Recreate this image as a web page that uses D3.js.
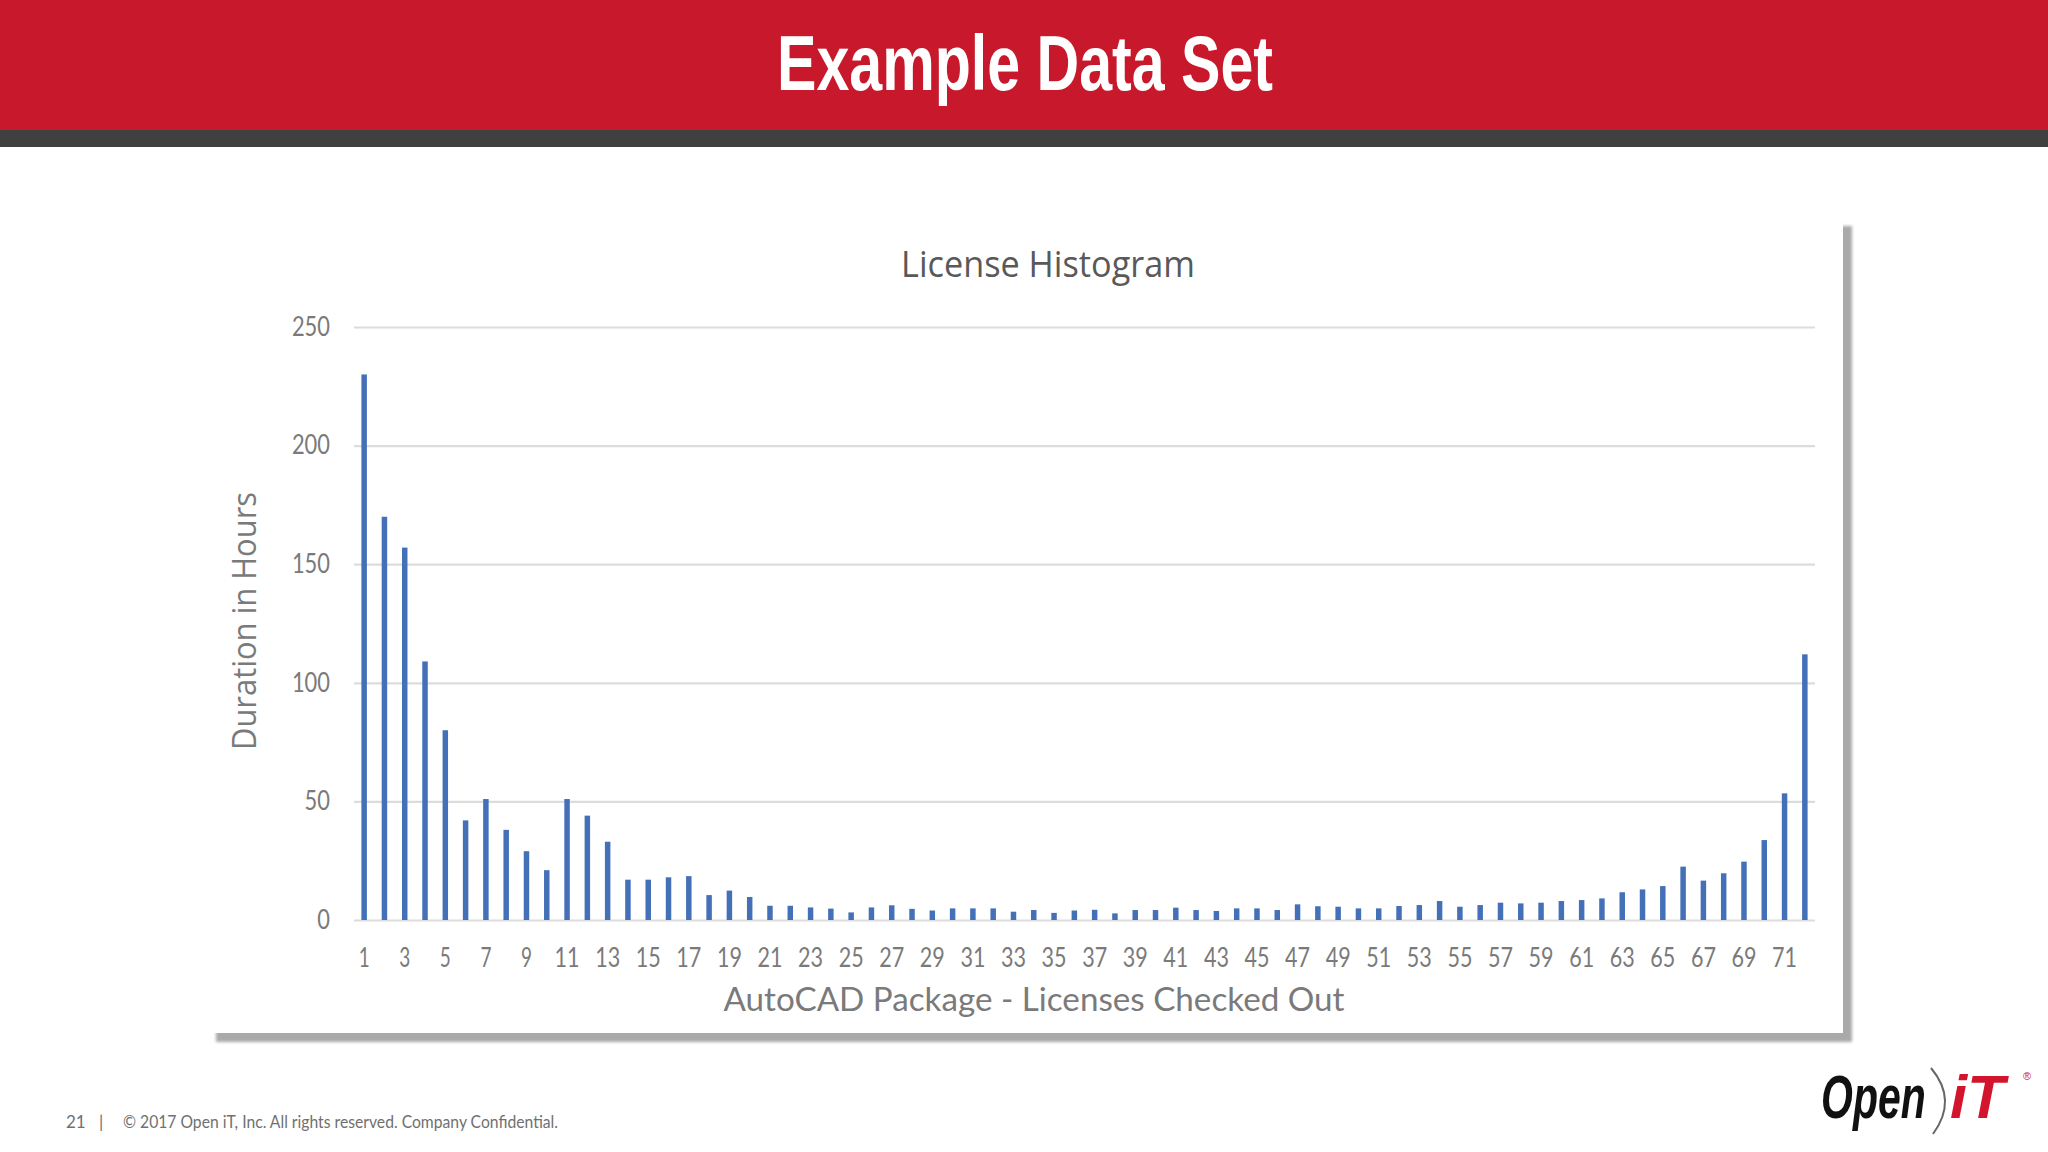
<!DOCTYPE html>
<html>
<head>
<meta charset="utf-8">
<script src="https://cdn.jsdelivr.net/npm/d3@7"></script>
<style>
  html, body { margin: 0; padding: 0; background: #ffffff; }
  svg { display: block; }
</style>
</head>
<body>
<svg id="chart" width="2048" height="1152"></svg>
<script>
// ---- data ----
const slideTitle = "Example Data Set";
const chartTitle = "License Histogram";
const xAxisTitle = "AutoCAD Package - Licenses Checked Out";
const yAxisTitle = "Duration in Hours";
const footerPage = "21";
const footerText = "\u00A9 2017 Open iT, Inc. All rights reserved. Company Confidential.";

const categories = d3.range(1, 73).map(String);   // 1 .. 72 licenses checked out
const durations = [
  230, 170, 157, 109, 80, 42, 51, 38, 29, 21,
  51, 44, 33, 17, 17, 18, 18.5, 10.5, 12.4, 9.7,
  6, 6, 5.3, 4.8, 3.2, 5.3, 6.2, 4.7, 4, 4.9,
  4.9, 4.9, 3.5, 4.2, 3, 4, 4.3, 2.8, 4.2, 4.2,
  5.2, 4.2, 3.8, 4.9, 4.9, 4.2, 6.6, 5.8, 5.6, 4.9,
  4.9, 5.9, 6.3, 8, 5.6, 6.3, 7.3, 7, 7.3, 8,
  8.4, 9.1, 11.7, 12.9, 14.3, 22.5, 16.6, 19.7, 24.6, 33.7,
  53.4, 112
];
const xTickLabels = categories.filter((d, i) => i % 2 === 0);   // 1, 3, 5 ... 71
const yTickValues = [0, 50, 100, 150, 200, 250];

// ---- drawing ----
const svg = d3.select("#chart");
const defs = svg.append("defs");
defs.append("filter").attr("id", "blur").attr("x", "-5%").attr("y", "-5%").attr("width", "110%").attr("height", "110%")
  .append("feGaussianBlur").attr("stdDeviation", 1.5);

// header
svg.append("rect").attr("x", 0).attr("y", 0).attr("width", 2048).attr("height", 130).attr("fill", "#c8182c");
svg.append("rect").attr("x", 0).attr("y", 130).attr("width", 2048).attr("height", 17).attr("fill", "#404040");
svg.append("text")
  .attr("x", 1025).attr("y", 90)
  .attr("text-anchor", "middle")
  .attr("font-family", "'Liberation Sans Narrow', 'Arial Narrow', 'Liberation Sans', sans-serif")
  .attr("font-weight", "bold")
  .attr("font-size", 78)
  .attr("textLength", 496).attr("lengthAdjust", "spacingAndGlyphs")
  .attr("fill", "#ffffff")
  .text(slideTitle);

// chart frame with shadow
svg.append("rect").attr("x", 216).attr("y", 226).attr("width", 1636).attr("height", 816)
  .attr("fill", "#a9a9a9").attr("filter", "url(#blur)");
svg.append("rect").attr("x", 212).attr("y", 222).attr("width", 1631).attr("height", 811).attr("fill", "#ffffff");

// scales
const x = d3.scaleBand().domain(categories).range([354, 1815]).paddingInner(0.73).paddingOuter(0.365);
const y = d3.scaleLinear().domain([0, 250]).range([920, 327]);

// gridlines + y labels
const yAxis = svg.append("g").attr("transform", "translate(354,0)")
  .call(d3.axisLeft(y).tickValues(yTickValues).tickSize(-1461).tickPadding(24).tickFormat(d3.format("d")));
yAxis.select(".domain").remove();
yAxis.selectAll(".tick line").attr("stroke", "#dcdcdc").attr("stroke-width", 2.2);
yAxis.selectAll(".tick text")
  .attr("font-family", "Lato, 'Open Sans', sans-serif")
  .attr("font-size", 26)
  .attr("fill", "#7a7a7a")
  .attr("textLength", d => String(d).length * 12.7)
  .attr("lengthAdjust", "spacingAndGlyphs");

// bars
svg.append("g").selectAll("rect")
  .data(durations)
  .join("rect")
  .attr("x", (d, i) => x(categories[i]))
  .attr("y", d => y(d))
  .attr("width", x.bandwidth())
  .attr("height", d => y(0) - y(d))
  .attr("fill", "#4470b8");

// x axis labels
const xAxis = svg.append("g").attr("transform", "translate(0,920)")
  .call(d3.axisBottom(x).tickValues(xTickLabels).tickSize(0).tickPadding(28));
xAxis.select(".domain").remove();
xAxis.selectAll(".tick text")
  .attr("font-family", "Lato, 'Open Sans', sans-serif")
  .attr("font-size", 27)
  .attr("fill", "#7a7a7a")
  .attr("textLength", d => d.length === 1 ? 11 : 25)
  .attr("lengthAdjust", "spacingAndGlyphs");

// chart title
svg.append("text")
  .attr("x", 1048).attr("y", 277)
  .attr("text-anchor", "middle")
  .attr("font-family", "'Open Sans', 'Noto Sans', sans-serif")
  .attr("font-size", 36)
  .attr("fill", "#595959")
  .attr("textLength", 294).attr("lengthAdjust", "spacingAndGlyphs")
  .text(chartTitle);

// axis titles
svg.append("text")
  .attr("x", 1034).attr("y", 1011)
  .attr("text-anchor", "middle")
  .attr("font-family", "Lato, 'Open Sans', sans-serif")
  .attr("font-size", 32)
  .attr("fill", "#7a7a7a")
  .attr("textLength", 621).attr("lengthAdjust", "spacingAndGlyphs")
  .text(xAxisTitle);

svg.append("text")
  .attr("transform", "translate(256,621) rotate(-90)")
  .attr("text-anchor", "middle")
  .attr("font-family", "'Open Sans', 'Noto Sans', sans-serif")
  .attr("font-size", 33)
  .attr("fill", "#7a7a7a")
  .attr("textLength", 258).attr("lengthAdjust", "spacingAndGlyphs")
  .text(yAxisTitle);

// footer
const footer = svg.append("g")
  .attr("font-family", "Lato, 'Open Sans', sans-serif")
  .attr("font-size", 17)
  .attr("fill", "#707070");
footer.append("text").attr("x", 66).attr("y", 1128).text(footerPage);
footer.append("text").attr("x", 99).attr("y", 1128).text("|");
footer.append("text").attr("x", 123).attr("y", 1128)
  .attr("textLength", 435).attr("lengthAdjust", "spacingAndGlyphs")
  .text(footerText);

// logo
const logo = svg.append("g")
  .attr("font-family", "'Liberation Sans', Arial, sans-serif")
  .attr("font-weight", "bold").attr("font-style", "italic");
logo.append("text").attr("transform", "translate(1821,1118) scale(1,1.5)").attr("font-size", 41)
  .attr("fill", "#111111").text("Open");
logo.append("path").attr("d", "M1931,1068 Q1958,1100 1933,1134")
  .attr("fill", "none").attr("stroke", "#666666").attr("stroke-width", 2);
logo.append("text").attr("transform", "translate(1950,1118) scale(1.5,1.5)").attr("font-size", 41)
  .attr("fill", "#d2142d").text("iT");
logo.append("text").attr("x", 2023).attr("y", 1080).attr("font-size", 11)
  .attr("font-style", "normal").attr("font-weight", "normal")
  .attr("fill", "#d2142d").text("\u00AE");
</script>
</body>
</html>
